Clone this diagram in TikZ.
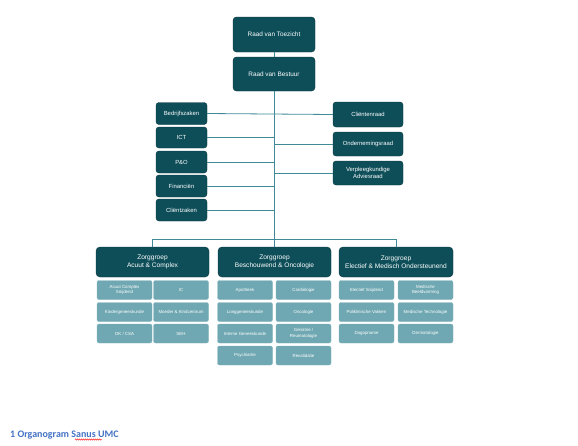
\documentclass[tikz,border=0pt]{standalone}
\usepackage{fontspec}
\setmainfont{Liberation Sans}
\newfontfamily\capfont{Carlito}
\usetikzlibrary{decorations.pathmorphing}
\definecolor{darkteal}{HTML}{0D4E59}
\definecolor{lightteal}{HTML}{6FA8B2}
\definecolor{lineteal}{HTML}{3F8A96}
\definecolor{capblue}{HTML}{4472C4}
\tikzset{
  bigbox/.style={draw=darkteal!70!black, fill=darkteal, rounded corners=3.5pt, text=white, align=center, inner sep=0pt,
    font=\fontsize{6.4}{7.6}\selectfont},
  sidebox/.style={bigbox, rounded corners=3pt, font=\fontsize{5.9}{7}\selectfont},
  groupbox/.style={bigbox, rounded corners=4pt, minimum width=113pt, minimum height=30pt, font=\fontsize{6.6}{7.8}\selectfont},
  subbox/.style={draw=lightteal!85!white, fill=lightteal, rounded corners=2pt, text=white, align=center, inner sep=0pt,
    minimum width=55pt, minimum height=19pt, font=\fontsize{4.4}{5.3}\selectfont},
  conn/.style={draw=lineteal, line width=0.8pt},
}
\begin{document}
\begin{tikzpicture}[x=1pt,y=-1pt]
\useasboundingbox (0,0) rectangle (578,445);
% top
\node[bigbox, minimum width=82pt, minimum height=35pt] (rvt) at (274,34.5) {Raad van Toezicht};
\node[bigbox, minimum width=82pt, minimum height=34pt] (rvb) at (274,74) {Raad van Bestuur};
% left staff
\node[sidebox, minimum width=51pt, minimum height=22pt] (bedr) at (181.5,113.5) {Bedrijfszaken};
\node[sidebox, minimum width=51pt, minimum height=21pt] (ict) at (181.5,137.5) {ICT};
\node[sidebox, minimum width=51pt, minimum height=22pt] (po) at (181.5,162) {P\&O};
\node[sidebox, minimum width=51pt, minimum height=22pt] (fin) at (181.5,186) {Financiën};
\node[sidebox, minimum width=51pt, minimum height=22pt] (clz) at (181.5,210) {Cliëntzaken};
% right councils
\node[sidebox, minimum width=70pt, minimum height=25pt] (clr) at (368,114.5) {Cliëntenraad};
\node[sidebox, minimum width=70pt, minimum height=24pt] (onr) at (368,144) {Ondernemingsraad};
\node[sidebox, minimum width=70pt, minimum height=24pt] (var) at (368,173) {Verpleegkundige\\Adviesraad};
% groups
\node[groupbox] (ga) at (152.5,262) {Zorggroep\\Acuut \& Complex};
\node[groupbox] (gb) at (274.5,262) {Zorggroep\\Beschouwend \& Oncologie};
\node[groupbox, minimum width=114pt] (gc) at (396,262) {Zorggroep\\Electief \& Medisch Ondersteunend};
% sub units A
\node[subbox] (a1) at (124.5,290) {Acuut Complex\\Snijdend};
\node[subbox] (a2) at (181,290) {IC};
\node[subbox] (a3) at (124.5,312) {Kindergeneeskunde};
\node[subbox] (a4) at (181,312) {Moeder \& Kindcentrum};
\node[subbox] (a5) at (124.5,333.5) {OK / CSA};
\node[subbox] (a6) at (181,333.5) {SEH};
% sub units B
\node[subbox] (b1) at (245,290) {Apotheek};
\node[subbox] (b2) at (303.5,290) {Cardiologie};
\node[subbox] (b3) at (245,312) {Longgeneeskunde};
\node[subbox] (b4) at (303.5,312) {Oncologie};
\node[subbox] (b5) at (245,333.5) {Interne Geneeskunde};
\node[subbox] (b6) at (303.5,333.5) {Geriatrie /\\Reumatologie};
\node[subbox] (b7) at (245,355.5) {Psychiatrie};
\node[subbox] (b8) at (303.5,355.5) {Revalidatie};
% sub units C
\node[subbox] (c1) at (366.5,290) {Electief Snijdend};
\node[subbox] (c2) at (425.5,290) {Medische\\Beeldvorming};
\node[subbox] (c3) at (366.5,312) {Poliklinische Vakken};
\node[subbox] (c4) at (425.5,312) {Medische Technologie};
\node[subbox] (c5) at (366.5,333.5) {Dagopname};
\node[subbox] (c6) at (425.5,333.5) {Dermatologie};
% connectors
\coordinate (barM) at (274,239);
\coordinate (barL) at (152.5,239);
\coordinate (barR) at (396,239);
\draw[conn] (rvt) -- (rvb);
\draw[conn] (rvb.south) -- (barM);
\draw[conn] (bedr.east) -- (clr.west);
\draw[conn] (ict.east) -- (ict.east -| rvb.south);
\draw[conn] (po.east) -- (po.east -| rvb.south);
\draw[conn] (fin.east) -- (fin.east -| rvb.south);
\draw[conn] (clz.east) -- (clz.east -| rvb.south);
\draw[conn] (onr.west) -- (onr.west -| rvb.south);
\draw[conn] (var.west) -- (var.west -| rvb.south);
\draw[conn] (barL) -- (barR);
\draw[conn] (barL) -- (ga.north);
\draw[conn] (barM) -- (gb.north -| barM);
\draw[conn] (barR) -- (gc.north);
% caption
\node[anchor=base west, inner sep=0pt, text=capblue, font=\capfont\bfseries\fontsize{10}{12}\selectfont] (cap) at (10,437) {1 Organogram Sanus UMC};
\draw[red, line width=0.45pt, decorate, decoration={snake, amplitude=0.6pt, segment length=2pt}] (75,439.5) -- (102,439.5);
\end{tikzpicture}
\end{document}
